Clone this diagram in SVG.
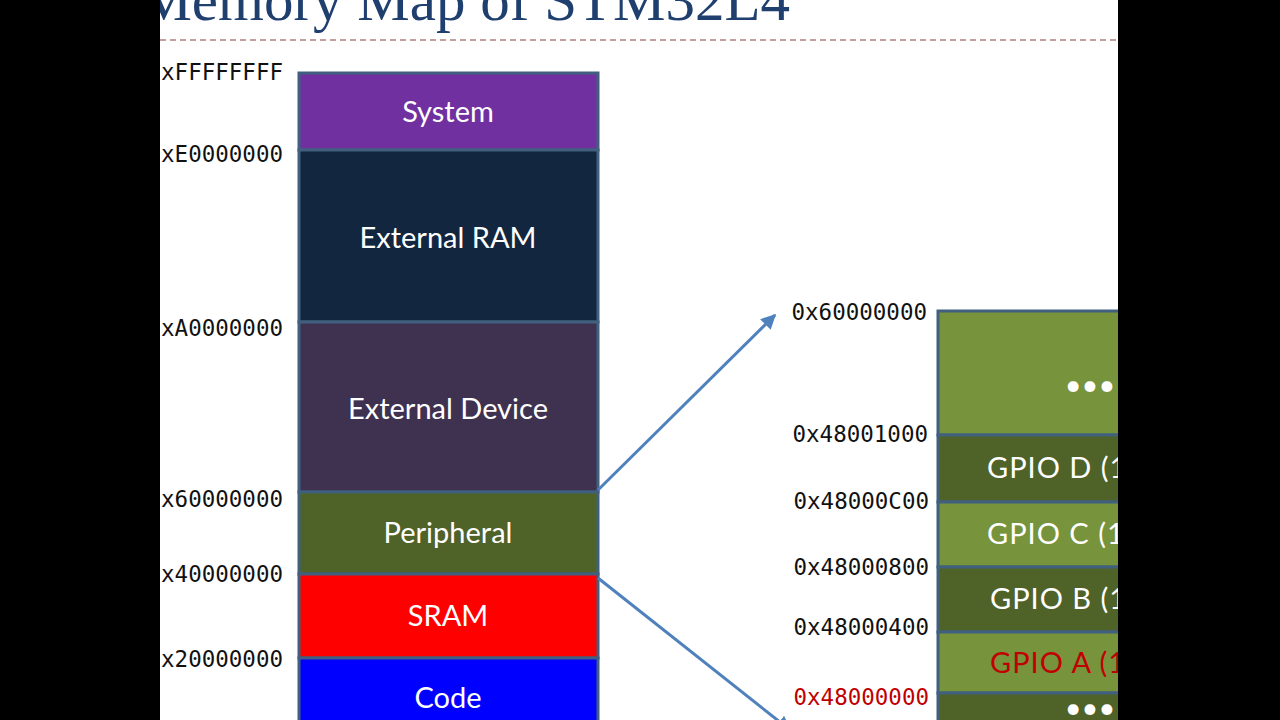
<svg xmlns="http://www.w3.org/2000/svg" width="1280" height="720" viewBox="0 0 1280 720">
<defs>
<style>
.addr{font-family:"DejaVu Sans Mono",monospace;font-size:22.5px;fill:#111;text-anchor:end}
.lbl{font-family:Lato,"Liberation Sans",sans-serif;font-size:29px;fill:#fff;text-anchor:middle}
.blk{stroke:#41607f;stroke-width:3}
.con{stroke:#4f81bd;stroke-width:3;fill:none}
</style>
<marker id="ah" viewBox="0 0 10 10" refX="9" refY="5" markerWidth="5" markerHeight="5" orient="auto"><path d="M0,0L10,5L0,10z" fill="#4f81bd"/></marker>
</defs>
<rect width="1280" height="720" fill="#fff"/>
<text x="790" y="20" font-family="'Liberation Serif',serif" font-size="59" fill="#1f3f6e" text-anchor="end">Memory Map of STM32L4</text>
<line x1="160" y1="40" x2="1118" y2="40" stroke="#b08080" stroke-width="1.5" stroke-dasharray="6,4"/>
<g id="labels-left">
<text class="addr" x="283" y="80">0xFFFFFFFF</text>
<text class="addr" x="283" y="162">0xE0000000</text>
<text class="addr" x="283" y="336">0xA0000000</text>
<text class="addr" x="283" y="507">0x60000000</text>
<text class="addr" x="283" y="582">0x40000000</text>
<text class="addr" x="283" y="667">0x20000000</text>
</g>
<g id="system"><rect class="blk" x="299" y="73" width="299" height="77" fill="#7030a0"/><text class="lbl" x="448" y="122">System</text></g>
<g id="extram"><rect class="blk" x="299" y="150" width="299" height="172" fill="#132640"/><text class="lbl" x="448" y="248">External RAM</text></g>
<g id="extdev"><rect class="blk" x="299" y="322" width="299" height="170" fill="#3f3150"/><text class="lbl" x="448" y="419">External Device</text></g>
<g id="periph"><rect class="blk" x="299" y="492" width="299" height="82" fill="#4f6228"/><text class="lbl" x="448" y="543">Peripheral</text></g>
<g id="sram"><rect class="blk" x="299" y="574" width="299" height="84" fill="#ff0000"/><text class="lbl" x="448" y="626">SRAM</text></g>
<g id="code"><rect class="blk" x="299" y="658" width="299" height="70" fill="#0000ff"/><text class="lbl" x="448" y="708">Code</text></g>
<g id="connectors">
<line class="con" x1="598" y1="490" x2="775" y2="315" marker-end="url(#ah)"/>
<line class="con" x1="598" y1="578" x2="790" y2="730" marker-end="url(#ah)"/>
</g>
<g id="labels-right">
<text class="addr" x="927" y="320">0x60000000</text>
<text class="addr" x="928" y="442">0x48001000</text>
<text class="addr" x="929" y="509">0x48000C00</text>
<text class="addr" x="929" y="575">0x48000800</text>
<text class="addr" x="929" y="635">0x48000400</text>
<text class="addr" x="929" y="705" style="fill:#c00000">0x48000000</text>
</g>
<g id="dots-top"><rect class="blk" x="938" y="311" width="250" height="124" fill="#77933c"/><text class="lbl" x="1090" y="395">•••</text></g>
<g id="gpiod"><rect class="blk" x="938" y="435" width="250" height="67" fill="#4f6228"/><text class="lbl" x="987" y="478" style="text-anchor:start;letter-spacing:1px">GPIO D (1</text></g>
<g id="gpioc"><rect class="blk" x="938" y="502" width="250" height="65" fill="#77933c"/><text class="lbl" x="987" y="544" style="text-anchor:start;letter-spacing:1px">GPIO C (1</text></g>
<g id="gpiob"><rect class="blk" x="938" y="567" width="250" height="65" fill="#4f6228"/><text class="lbl" x="990" y="609" style="text-anchor:start;letter-spacing:1px">GPIO B (1</text></g>
<g id="gpioa"><rect class="blk" x="938" y="632" width="250" height="61" fill="#77933c"/><text class="lbl" x="990" y="673" style="text-anchor:start;letter-spacing:1px;fill:#c00000">GPIO A (1</text></g>
<g id="dots-bottom"><rect class="blk" x="938" y="693" width="250" height="40" fill="#4f6228"/><text class="lbl" x="1090" y="718">•••</text></g>
<rect x="0" y="0" width="160" height="720" fill="#000"/>
<rect x="1118" y="0" width="162" height="720" fill="#000"/>
</svg>
